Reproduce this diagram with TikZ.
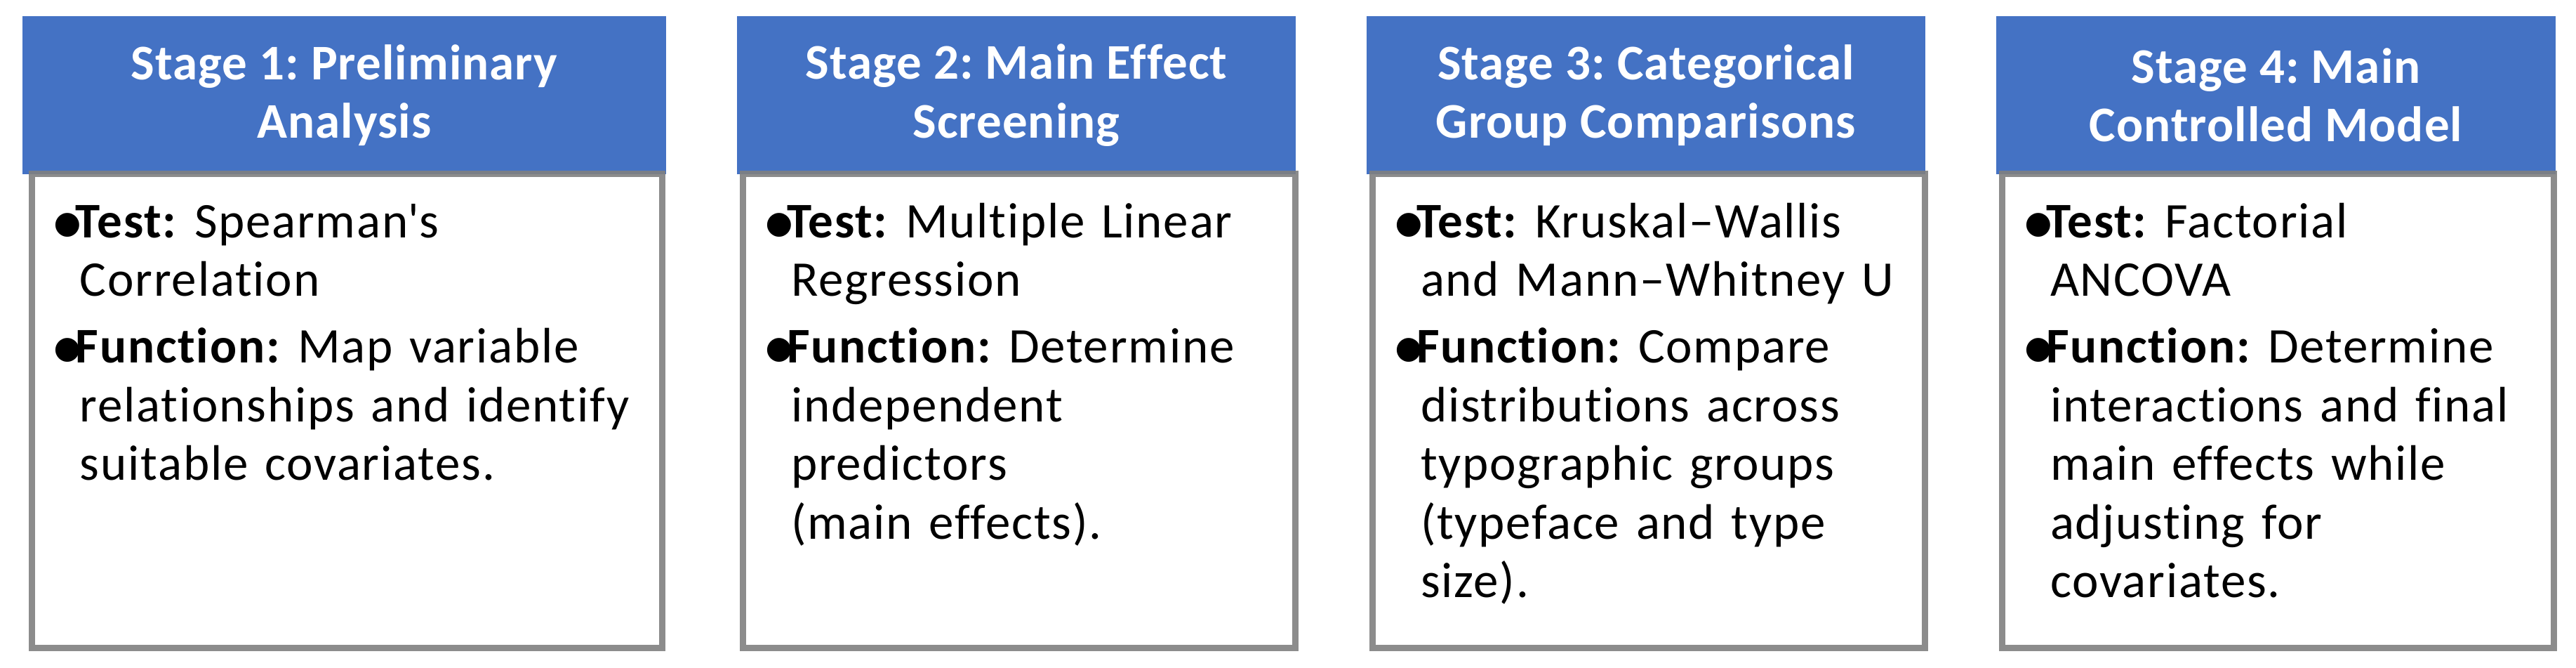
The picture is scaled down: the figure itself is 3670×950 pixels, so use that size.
\documentclass[tikz,border=0pt]{standalone}
\usepackage{fontspec}
\setmainfont{Carlito}
\usepackage{tikz}
\usetikzlibrary{positioning}
\definecolor{stageblue}{HTML}{4472C4}
\newlength{\bulletw}
\setlength{\bulletw}{7.0pt}
\newlength{\hangw}
\setlength{\hangw}{8.2pt}
\newcommand{\stageitem}[2]{\noindent\hangindent=\hangw\hangafter=1\rule{0pt}{11pt}%
\makebox[\bulletw][l]{\raisebox{-1.8pt}{\scalebox{1.35}{\textbullet}}}\textbf{#1} #2\par}

\begin{document}
\frenchspacing
\begin{tikzpicture}[x=0.2pt,y=0.2pt,
head/.style={fill=stageblue, text=white, font=\fontsize{14.2pt}{16.7pt}\selectfont\addfontfeatures{LetterSpace=1.5,Ligatures=NoCommon}\bfseries, align=center, inner sep=0pt, minimum height=45pt, anchor=north west},
frame/.style={draw=black!50, draw opacity=0.9, line width=1.8pt, minimum height=135pt, inner sep=0pt, anchor=north west},
items/.style={text width=#1, inner sep=0pt, anchor=north west, font=\fontsize{14.2pt}{16.7pt}\selectfont\addfontfeatures{LetterSpace=2.5,Ligatures=NoCommon}, execute at begin node={\setlength{\parskip}{2.3pt}\raggedright}}]
\useasboundingbox (0,0) rectangle (3670,950);
% stage 1
\node[head, minimum width=183.4pt] (h1) at (31,928) {Stage 1: Preliminary\\Analysis};
\node[frame, minimum width=179.6pt] (f1) at (40.5,707.5) {};
\node[items=170pt] (t1) at (72,668) {\stageitem{Test:}{Spearman\textquotesingle s\newline Correlation}\stageitem{Function:}{Map variable\newline relationships and identify\newline suitable covariates.}};
% stage 2
\node[head, minimum width=159.2pt] (h2) at (1049,928) {Stage 2: Main Effect\\Screening};
\node[frame, minimum width=157.4pt] (f2) at (1053.5,707.5) {};
\node[items=150pt] (t2) at (1085,668) {\stageitem{Test:}{Multiple Linear\newline Regression}\stageitem{Function:}{Determine\newline independent\newline predictors\newline (main effects).}};
% stage 3
\node[head, minimum width=159.2pt] (h3) at (1946,928) {Stage 3: Categorical\\Group Comparisons};
\node[frame, minimum width=157.4pt] (f3) at (1950.5,707.5) {};
\node[items=150pt] (t3) at (1982,668) {\stageitem{Test:}{Kruskal–Wallis\newline and Mann–Whitney U}\stageitem{Function:}{Compare\newline distributions across\newline typographic groups\newline (typeface and type\newline size).}};
% stage 4
\node[head, minimum width=159.4pt] (h4) at (2843,928) {Stage 4: Main\\Controlled Model};
\node[frame, minimum width=157.3pt] (f4) at (2847.5,707.5) {};
\node[items=150pt] (t4) at (2879,668) {\stageitem{Test:}{Factorial\newline ANCOVA}\stageitem{Function:}{Determine\newline interactions and final\newline main effects while\newline adjusting for\newline covariates.}};
\end{tikzpicture}
\end{document}
